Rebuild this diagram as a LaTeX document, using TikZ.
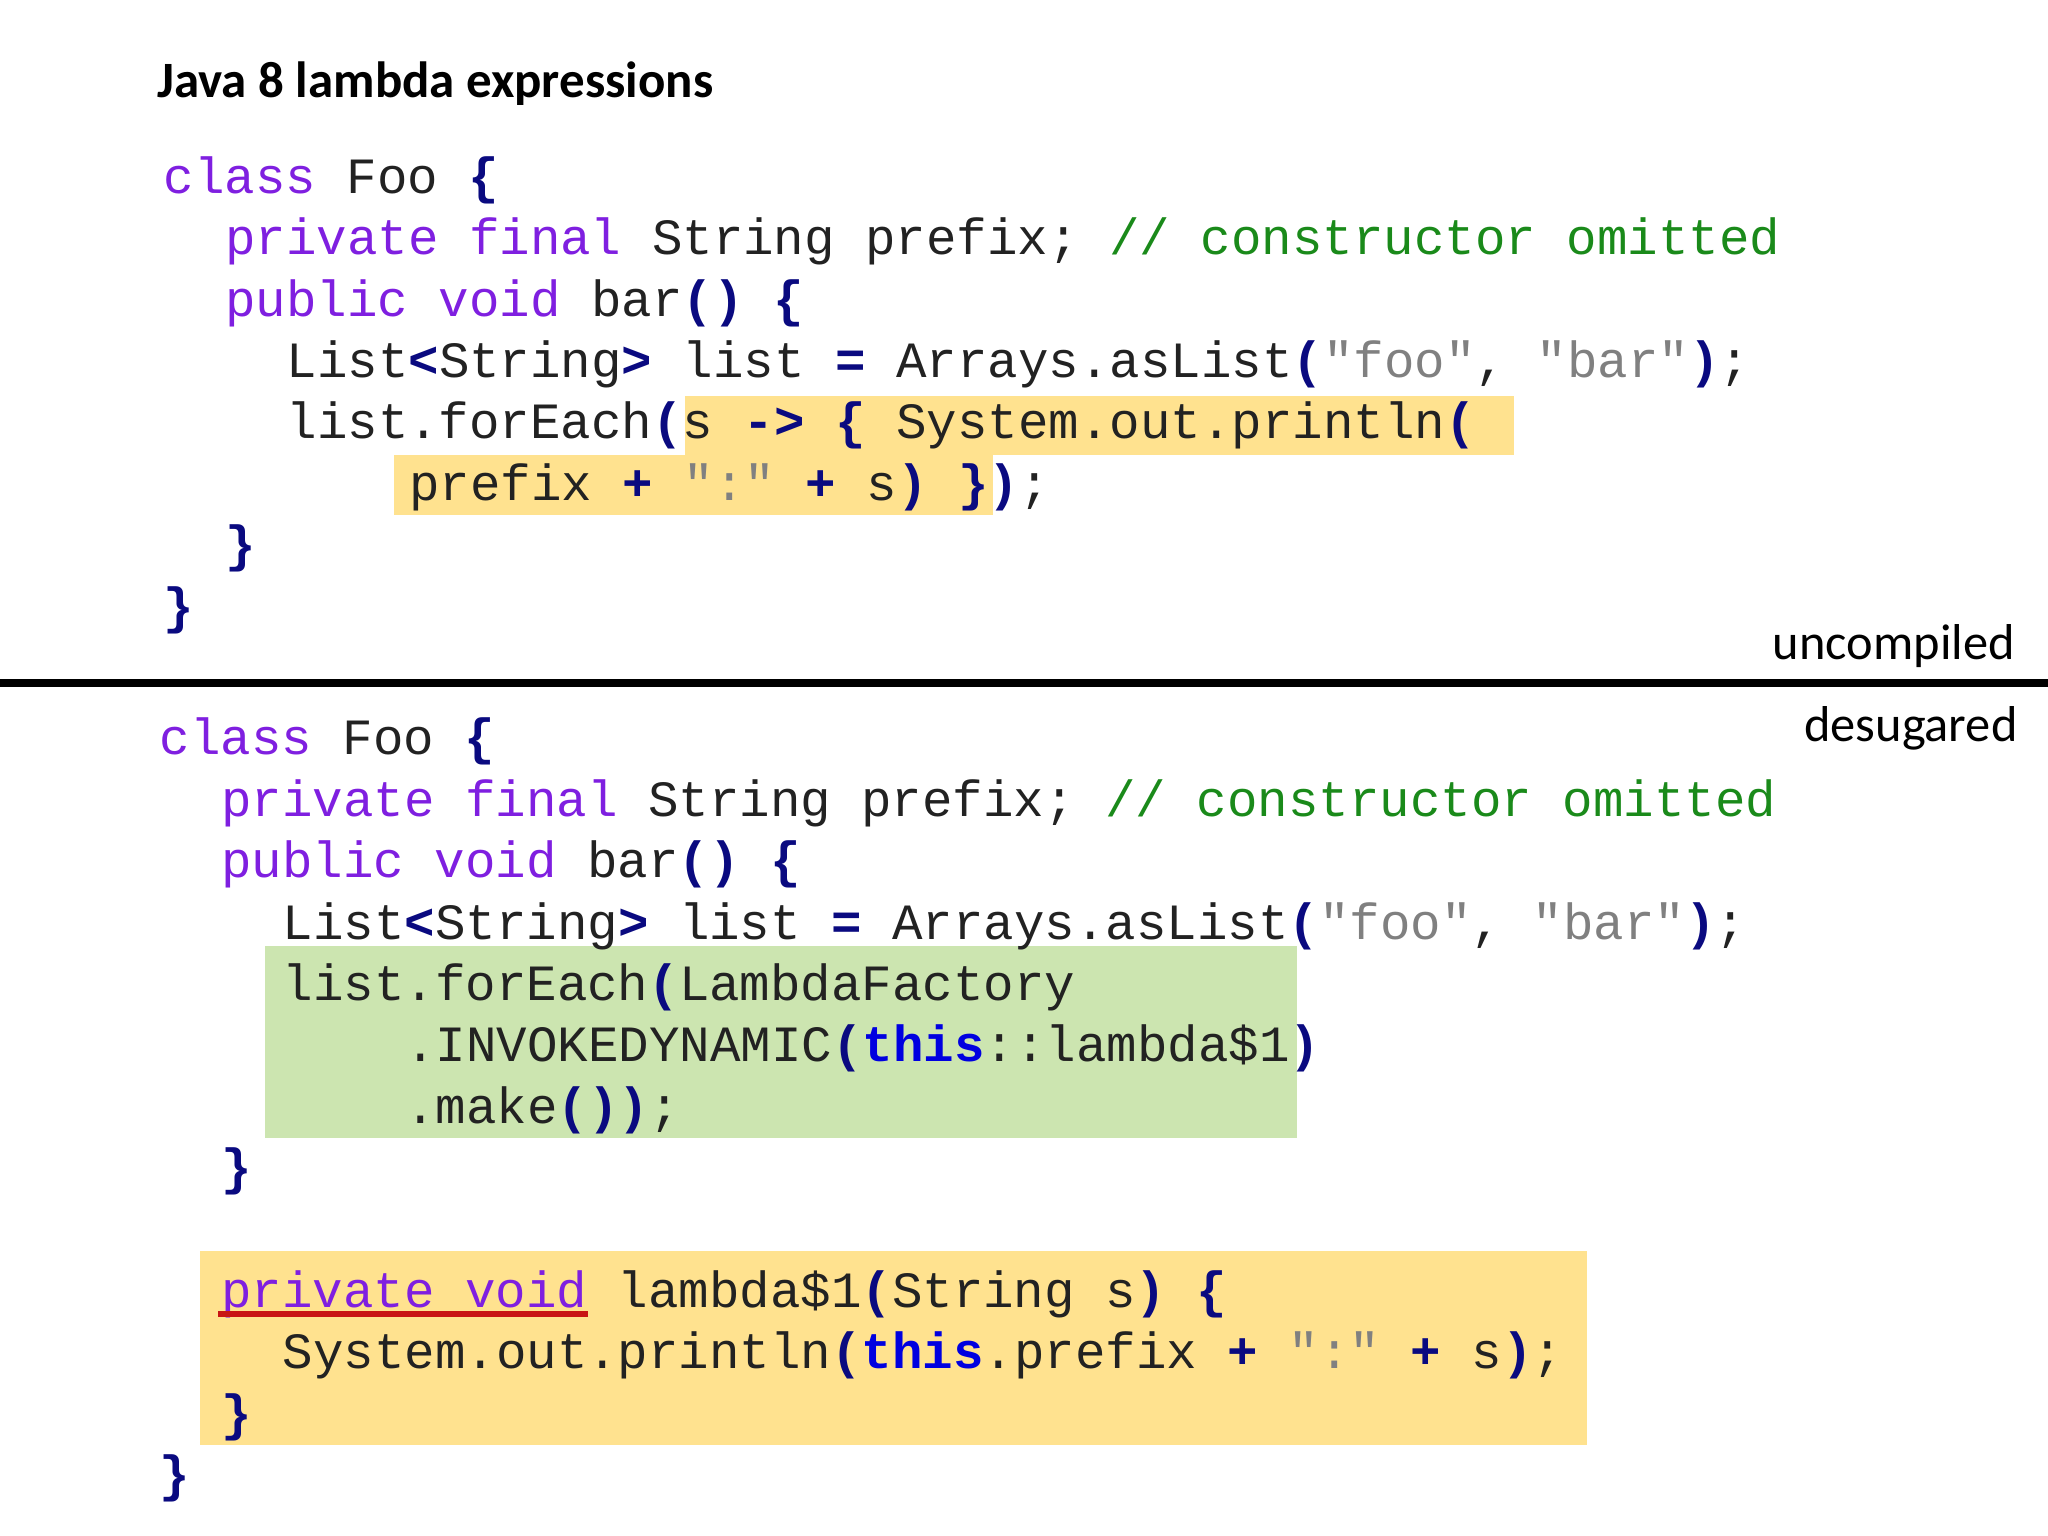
\documentclass[tikz,border=0pt]{standalone}
\usepackage{fontspec}
\setmainfont{Carlito}
\newfontfamily\code{Liberation Mono}
\definecolor{kwc}{HTML}{7F1FE0}
\definecolor{opc}{HTML}{0A0A80}
\definecolor{strc}{HTML}{808080}
\definecolor{cmc}{HTML}{1A8A1A}
\definecolor{thc}{HTML}{0000E0}
\definecolor{hly}{HTML}{FFE28F}
\definecolor{hlg}{HTML}{CCE5B0}
\definecolor{txt}{HTML}{222222}
\newcommand\jkw[1]{\textcolor{kwc}{#1}}
\newcommand\jop[1]{\textcolor{opc}{\bfseries #1}}
\newcommand\jstr[1]{\textcolor{strc}{#1}}
\newcommand\jcm[1]{\textcolor{cmc}{#1}}
\newcommand\jth[1]{\textcolor{thc}{\bfseries #1}}
\begin{document}
\begin{tikzpicture}[x=0.5pt,y=-0.5pt,
  ln/.style={anchor=base west,inner sep=0,text=txt,font=\code\fontsize{19.45}{23}\selectfont},
  lbl/.style={anchor=base east,inner sep=0,font=\fontsize{19.3}{23}\selectfont}]
\useasboundingbox (0,0) rectangle (1568,1176);
\def\cw{23.5}
% highlights
\fill[hly] (125+17*\cw,303) rectangle (125+44*\cw,348);
\fill[hly] (302,348) rectangle (760,394);
\fill[hlg] (203,724) rectangle (993,871);
\fill[hly] (153,958) rectangle (1215,1106);
% top
\node[anchor=base west,inner sep=0,font=\bfseries\fontsize{19.5}{23}\selectfont] (title) at (120,75) {Java 8 lambda expressions};
\node[ln] (t1) at (125,148) {\jkw{class} Foo \jop{\{}};
\node[ln] (t2) at (125+2*\cw,195) {\jkw{private final} String prefix; \jcm{// constructor omitted}};
\node[ln] (t3) at (125+2*\cw,242) {\jkw{public void} bar\jop{()} \jop{\{}};
\node[ln] (t4) at (125+4*\cw,289) {List\jop{<}String\jop{>} list \jop{=} Arrays.asList\jop{(}\jstr{"foo"}, \jstr{"bar"}\jop{)};};
\node[ln] (t5) at (125+4*\cw,336) {list.forEach\jop{(}s \jop{->} \jop{\{} System.out.println\jop{(}};
\node[ln] (t6) at (125+8*\cw,383) {prefix \jop{+} \jstr{":"} \jop{+} s\jop{)} \jop{\})};};
\node[ln] (t7) at (125+2*\cw,430) {\jop{\}}};
\node[ln] (t8) at (125,477) {\jop{\}}};
\node[lbl] (unc) at (1543,505) {uncompiled};
\draw[line width=3pt] (0,523) -- (1568,523);
\node[lbl] (des) at (1545,568) {desugared};
% bottom
\node[ln] (b1) at (122,578) {\jkw{class} Foo \jop{\{}};
\node[ln] (b2) at (122+2*\cw,625) {\jkw{private final} String prefix; \jcm{// constructor omitted}};
\node[ln] (b3) at (122+2*\cw,672) {\jkw{public void} bar\jop{()} \jop{\{}};
\node[ln] (b4) at (122+4*\cw,719) {List\jop{<}String\jop{>} list \jop{=} Arrays.asList\jop{(}\jstr{"foo"}, \jstr{"bar"}\jop{)};};
\node[ln] (b5) at (122+4*\cw,766) {list.forEach\jop{(}LambdaFactory};
\node[ln] (b6) at (122+8*\cw,813) {.INVOKEDYNAMIC\jop{(}\jth{this}::lambda\$1\jop{)}};
\node[ln] (b7) at (122+8*\cw,860) {.make\jop{())};};
\node[ln] (b8) at (122+2*\cw,907) {\jop{\}}};
\node[ln] (b9) at (122+2*\cw,1001) {\jkw{private void} lambda\$1\jop{(}String s\jop{)} \jop{\{}};
\node[ln] (b10) at (122+4*\cw,1048) {System.out.println\jop{(}\jth{this}.prefix \jop{+} \jstr{":"} \jop{+} s\jop{)};};
\node[ln] (b11) at (122+2*\cw,1095) {\jop{\}}};
\node[ln] (b12) at (122,1142) {\jop{\}}};
\draw[color={rgb,255:red,200;green,20;blue,20},line width=2pt] (167,1006) -- (450,1006);
\end{tikzpicture}
\end{document}
